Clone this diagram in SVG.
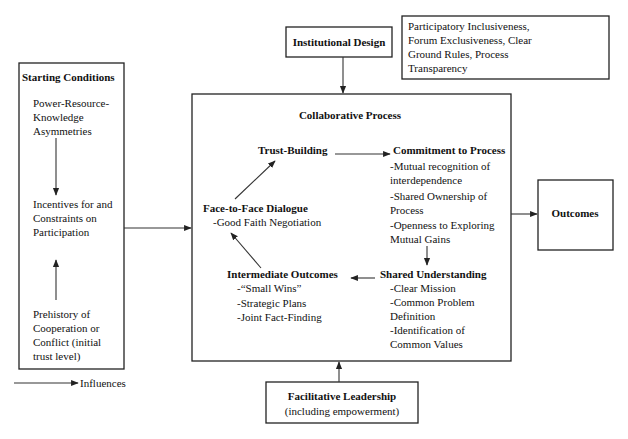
<svg xmlns="http://www.w3.org/2000/svg" width="628" height="439" viewBox="0 0 628 439">
<style>
text{font-family:'Liberation Serif','Times New Roman','DejaVu Serif',serif;font-size:11px;fill:#111}
.b{font-weight:bold}
.c{text-anchor:middle}
.box{fill:#fff;stroke:#222;stroke-width:1.3}
line{stroke:#333;stroke-width:1.1;marker-end:url(#ah)}
</style>
<defs><marker id="ah" viewBox="0 0 10 10" refX="9" refY="5" markerWidth="7" markerHeight="7" orient="auto"><path d="M0,1 L10,5 L0,9 z" fill="#222"/></marker></defs>
<rect width="628" height="439" fill="#fff"/>
<g id="starting"><rect class="box" x="19" y="63" width="105" height="306"/>
<text class="b" x="22" y="81">Starting Conditions</text>
<text x="33" y="107">Power-Resource-</text><text x="33" y="121">Knowledge</text><text x="33" y="135">Asymmetries</text>
<text x="33" y="208">Incentives for and</text><text x="33" y="222">Constraints on</text><text x="33" y="236">Participation</text>
<text x="33" y="318">Prehistory of</text><text x="33" y="332">Cooperation or</text><text x="33" y="346">Conflict (initial</text><text x="33" y="360">trust level)</text></g>
<g id="collab"><rect class="box" x="192" y="94" width="319" height="267"/>
<text class="b c" x="350" y="119">Collaborative Process</text></g>
<g id="trust"><text class="b" x="258" y="154">Trust-Building</text></g>
<g id="commit"><text class="b" x="393" y="154">Commitment to Process</text>
<text x="390" y="170">-Mutual recognition of</text><text x="390" y="184">interdependence</text><text x="390" y="200">-Shared Ownership of</text><text x="390" y="214">Process</text><text x="390" y="229">-Openness to Exploring</text><text x="390" y="243">Mutual Gains</text></g>
<g id="shared"><text class="b" x="380" y="278">Shared Understanding</text>
<text x="390" y="292">-Clear Mission</text><text x="390" y="306">-Common Problem</text><text x="390" y="320">Definition</text><text x="390" y="334">-Identification of</text><text x="390" y="348">Common Values</text></g>
<g id="intermediate"><text class="b" x="227" y="278">Intermediate Outcomes</text>
<text x="237" y="292">-“Small Wins”</text><text x="237" y="307">-Strategic Plans</text><text x="237" y="321">-Joint Fact-Finding</text></g>
<g id="face"><text class="b" x="203" y="212">Face-to-Face Dialogue</text><text x="213" y="226">-Good Faith Negotiation</text></g>
<g id="institutional"><rect class="box" x="286" y="27" width="106" height="30"/><text class="b c" x="339" y="46">Institutional Design</text></g>
<g id="participatory"><rect class="box" x="402" y="16" width="207" height="63"/>
<text x="408" y="30">Participatory Inclusiveness,</text><text x="408" y="44">Forum Exclusiveness, Clear</text><text x="408" y="58">Ground Rules, Process</text><text x="408" y="72">Transparency</text></g>
<g id="outcomes"><rect class="box" x="538" y="180" width="75" height="70"/><text class="b c" x="575" y="217">Outcomes</text></g>
<g id="facilitative"><rect class="box" x="266" y="382" width="152" height="41"/><text class="b c" x="342" y="400">Facilitative Leadership</text><text class="c" x="342" y="415">(including empowerment)</text></g>
<g id="legend"><text x="80" y="387">Influences</text></g>
<g id="connectors">
<line x1="56" y1="138" x2="56" y2="195"/>
<line x1="56" y1="300" x2="56" y2="260"/>
<line x1="124" y1="228" x2="191" y2="228"/>
<line x1="343" y1="57" x2="343" y2="93"/>
<line x1="511" y1="214" x2="537" y2="214"/>
<line x1="339" y1="382" x2="339" y2="362"/>
<line x1="14" y1="383" x2="78" y2="383"/>
<line x1="335" y1="154" x2="390" y2="154"/>
<line x1="427" y1="246" x2="427" y2="265"/>
<line x1="375" y1="278" x2="351" y2="278"/>
<line x1="261" y1="268" x2="231" y2="233"/>
<line x1="235" y1="199" x2="275" y2="161"/>
</g>
</svg>
